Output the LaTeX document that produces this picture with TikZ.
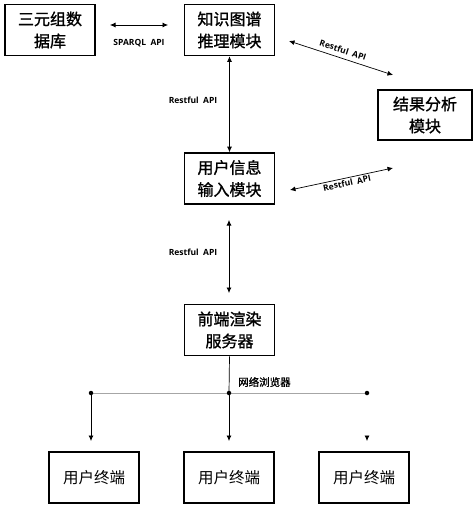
\documentclass[tikz,border=0pt]{standalone}
\usepackage{fontspec}
\newfontfamily\cjk{Noto Sans CJK SC}
\newfontfamily\cjkb{Noto Sans CJK SC}[FakeBold=1.2]
\newfontfamily\lab{Open Sans}
\usetikzlibrary{arrows.meta}
\tikzset{
  box/.style={draw=black, line width=1.6pt, minimum width=90pt, minimum height=51pt, align=center, inner sep=0pt, font=\cjkb\fontsize{16}{22}\selectfont},
  term/.style={draw=black, line width=1.4pt, minimum width=90pt, minimum height=51pt, align=center, inner sep=0pt, font=\cjk\fontsize{15.5}{20}\selectfont},
  conn/.style={line width=0.7pt, {Latex[length=5.5pt,width=5pt]}-{Latex[length=5.5pt,width=5pt]}},
  oneway/.style={line width=0.7pt, -{Latex[length=5.5pt,width=5pt]}},
  apilab/.style={font=\lab\bfseries\fontsize{8.5}{9}\selectfont, inner sep=1pt},
  dotn/.style={circle, fill=black, minimum size=4.5pt, inner sep=0pt},
}
\begin{document}
\begin{tikzpicture}[x=1pt,y=-1pt]
\useasboundingbox (0,0) rectangle (474,508);
\node[box] (db) at (50,30) {三元组数\\据库};
\node[box] (kg) at (229.5,30) {知识图谱\\推理模块};
\node[box, minimum width=94pt, minimum height=50pt] (res) at (425,115) {结果分析\\模块};
\node[box] (ui) at (229.5,178.5) {用户信息\\输入模块};
\node[box] (fe) at (229.5,330) {前端渲染\\服务器};
\node[term] (t1) at (94,477.5) {用户终端};
\node[term] (t2) at (229,477.5) {用户终端};
\node[term] (t3) at (364,477.5) {用户终端};

% SPARQL arrow
\coordinate (s1) at (110,25);
\coordinate (s2) at (168,25);
\draw[conn] (s1) -- (s2);
\node[apilab] (slab) at (139,43) {SPARQL\ \ API};

% kg <-> ui
\draw[conn] (kg.south) -- (ui.north);
\node[apilab] (r1lab) at (193,100) {Restful\ \ API};

% kg <-> res
\coordinate (a1) at (289,41);
\coordinate (a2) at (393,75);
\draw[conn] (a1) -- (a2);
\node[apilab, rotate=-18] (r2lab) at (343,50) {Restful\ \ API};

% ui <-> res
\coordinate (b1) at (290,190);
\coordinate (b2) at (393,168);
\draw[conn] (b1) -- (b2);
\node[apilab, rotate=12] (r3lab) at (347,183) {Restful\ \ API};

% ui <-> fe
\coordinate (u1) at (229,220);
\coordinate (u2) at (229,293);
\draw[conn] (u1) -- (u2);
\node[apilab] (r4lab) at (193,252) {Restful\ \ API};

% browser distribution
\coordinate (p1) at (91,393);
\coordinate (p2) at (229,393);
\coordinate (p3) at (367,393);
\draw[line width=0.7pt] (fe.south) -- (p2);
\draw[line width=0.5pt, black!35] (p1) -- (p3);
\node[font=\cjkb\fontsize{10.5}{11}\selectfont, anchor=west, inner sep=0pt] (br) at (238,382) {网络浏览器};
\coordinate (e1) at (91,441);
\coordinate (e2) at (229,441);
\coordinate (e3) at (367,441);
\draw[oneway] (p1) -- (e1);
\draw[oneway] (p2) -- (e2);
\draw[line width=0.7pt, white, -{Latex[length=5.5pt,width=5pt,black]}] ([yshift=8pt]e3) -- (e3);
\node[dotn] (d1) at (p1) {};
\node[dotn] (d2) at (p2) {};
\node[dotn] (d3) at (p3) {};
\end{tikzpicture}
\end{document}
